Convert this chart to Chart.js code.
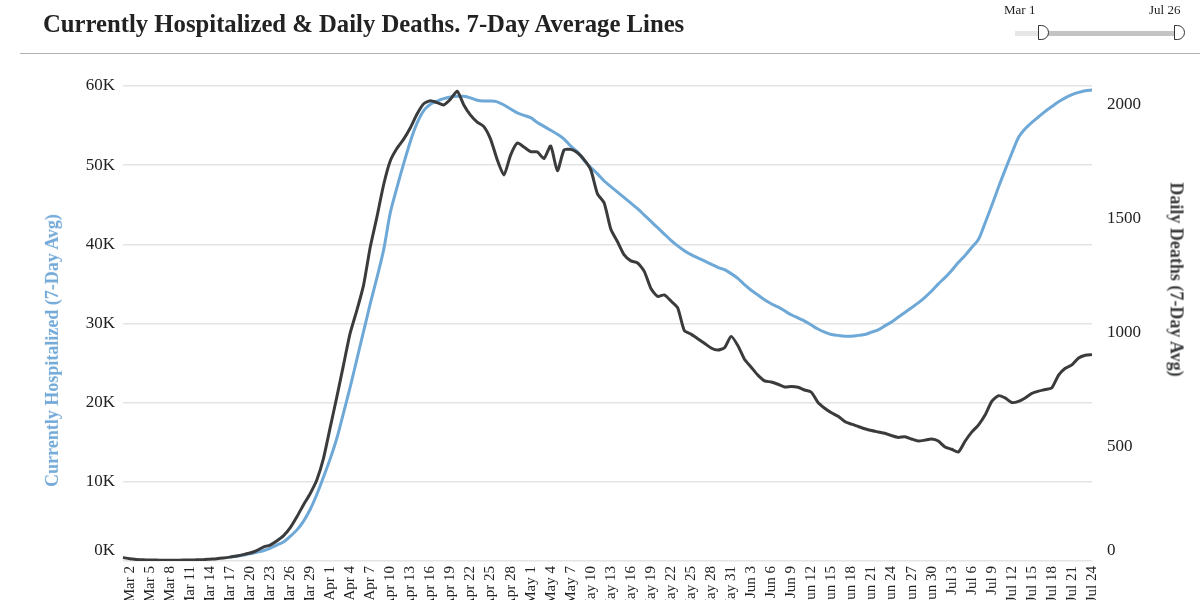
<!DOCTYPE html>
<html>
<head>
<meta charset="utf-8">
<script src="https://cdn.jsdelivr.net/npm/chart.js@4.4.1/dist/chart.umd.min.js"></script>
<style>
  html, body { margin: 0; padding: 0; width: 1200px; height: 600px; overflow: hidden; background: #fff; }
  body { position: relative; font-family: "Liberation Serif", "Times New Roman", serif; }
  #title { position: absolute; left: 43px; top: 9px; font-size: 26px; font-weight: bold; color: #222; white-space: nowrap; transform: scaleX(0.95); transform-origin: left center; }
  #rule { position: absolute; left: 20px; right: 0; top: 53px; height: 0; border-top: 1.5px solid #b0b0b0; }
  .sl-label { position: absolute; top: 2px; font-size: 13px; color: #222; }
  .track { position: absolute; top: 31px; height: 5px; }
  .handle { position: absolute; top: 25px; width: 11px; height: 15px; background: #fff; border: 1px solid #333; border-radius: 0 8px 8px 0; box-sizing: border-box; }
  .ytitle { position: absolute; font-size: 18px; font-weight: bold; white-space: nowrap; transform-origin: center center; }
  #chartbox { position: absolute; left: 0; top: 0; width: 1200px; height: 640px; }
</style>
</head>
<body>
<div id="chartbox"><canvas id="chart" width="1200" height="640"></canvas></div>
<div id="title">Currently Hospitalized &amp; Daily Deaths. 7-Day Average Lines</div>
<div id="rule"></div>
<div class="sl-label" style="left:1004px">Mar 1</div>
<div class="sl-label" style="left:1149px">Jul 26</div>
<div class="track" style="left:1015px; width:25px; background:#e6e6e6"></div>
<div class="track" style="left:1045px; width:130px; background:#c4c4c4"></div>
<div class="handle" style="left:1038px"></div>
<div class="handle" style="left:1174px"></div>
<div class="ytitle" id="ltitle" style="color:#72a9d8">Currently Hospitalized (7-Day Avg)</div>
<div class="ytitle" id="rtitle" style="color:#3a3b3d">Daily Deaths (7-Day Avg)</div>
<script>
// days from Mar 1 to Jul 24
const months = ['Mar', 'Apr', 'May', 'Jun', 'Jul'];
const monthDays = [31, 30, 31, 30, 24];

const dates = [];
months.forEach((m, i) => {
    for (let d = 1; d <= monthDays[i]; d++) dates.push(m + ' ' + d);
});

// currently hospitalized, 7-day avg (null before Mar 17)
const hospitalized = [
    null, null, null, null, null, null, null, null, null, null,
    null, null, null, null, null, null, 500, 600, 750, 900,
    1100, 1300, 1600, 2000, 2400, 3100, 3900, 5000, 6500, 8400,
    10600, 12900, 15500, 18700, 22000, 25500, 29000, 32500, 35800, 39300,
    44000, 47200, 50200, 53000, 55300, 56900, 57700, 58100, 58400, 58600,
    58700, 58700, 58500, 58200, 58100, 58100, 58000, 57600, 57100, 56600,
    56300, 56000, 55400, 54900, 54400, 53900, 53300, 52400, 51700, 50600,
    49700, 48900, 48000, 47300, 46600, 45900, 45200, 44500, 43700, 42900,
    42100, 41300, 40500, 39800, 39200, 38700, 38300, 37900, 37500, 37100,
    36800, 36300, 35700, 34900, 34200, 33600, 33000, 32500, 32100, 31600,
    31100, 30700, 30300, 29800, 29300, 28900, 28600, 28500, 28400, 28400,
    28500, 28600, 28900, 29200, 29700, 30200, 30800, 31400, 32000, 32600,
    33300, 34100, 35000, 35800, 36700, 37700, 38600, 39600, 40600, 42700,
    44900, 47200, 49400, 51500, 53500, 54600, 55400, 56100, 56800, 57400,
    58000, 58500, 58900, 59200, 59400, 59500
];

// daily deaths, 7-day avg
const deaths = [
    15, 10, 7, 5, 4, 4, 3, 3, 3, 4,
    4, 5, 6, 8, 10, 13, 17, 22, 28, 35,
    46, 61, 70, 88, 110, 145, 193, 246, 295, 355,
    450, 585, 720, 860, 1000, 1100, 1210, 1377, 1509, 1650,
    1755, 1810, 1850, 1900, 1960, 2005, 2018, 2010, 2000, 2025,
    2060, 2000, 1955, 1925, 1905, 1850, 1760, 1693, 1780, 1833,
    1815, 1795, 1794, 1765, 1820, 1711, 1803, 1805, 1790, 1760,
    1715, 1610, 1570, 1455, 1400, 1342, 1316, 1307, 1270, 1195,
    1160, 1167, 1140, 1110, 1010, 995, 975, 955, 934, 925,
    935, 985, 945, 885, 850, 815, 790, 785, 775, 763,
    765, 762, 750, 740, 695, 670, 650, 635, 612, 600,
    590, 580, 572, 566, 560, 550, 542, 545, 535, 526,
    530, 535, 526, 500, 490, 478, 525, 565, 596, 640,
    700, 725, 715, 695, 700, 715, 735, 745, 752, 760,
    815, 845, 860, 890, 902, 905
];

const leftTicks = [0, 10000, 20000, 30000, 40000, 50000, 60000];
const rightTicks = [0, 500, 1000, 1500, 2000];

const blue = '#6ea8d7';
const dark = '#3a3b3d';
const serif = '"Liberation Serif", "Times New Roman", serif';

function placeTitle(el, cx, cy, deg) {
    el.style.left = '0px';
    el.style.top = '0px';
    const w = el.offsetWidth, h = el.offsetHeight;
    el.style.left = (cx - w / 2) + 'px';
    el.style.top = (cy - h / 2) + 'px';
    el.style.transform = 'rotate(' + deg + 'deg)';
}
placeTitle(document.getElementById('ltitle'), 52, 350, -90);
placeTitle(document.getElementById('rtitle'), 1176, 279, 90);

// the zero labels sit a little above their line, a blank second line lifts them
const zeroLift = txt => [txt, ''];

new Chart(document.getElementById('chart').getContext('2d'), {
    type: 'line',
    data: {
        labels: dates,
        datasets: [
            {
                label: 'Daily Deaths (7-Day Avg)',
                data: deaths,
                yAxisID: 'yR',
                borderColor: dark,
                borderWidth: 3,
                pointRadius: 0,
                tension: 0.2,
                borderJoinStyle: 'round',
                order: 1
            },
            {
                label: 'Currently Hospitalized (7-Day Avg)',
                data: hospitalized,
                yAxisID: 'yL',
                borderColor: blue,
                borderWidth: 3,
                pointRadius: 0,
                tension: 0.3,
                borderJoinStyle: 'round',
                order: 2
            }
        ]
    },
    options: {
        responsive: false,
        animation: false,
        devicePixelRatio: 1,
        layout: { padding: { top: 86, left: 0, right: 0, bottom: 0 } },
        plugins: { legend: { display: false }, tooltip: { enabled: false } },
        scales: {
            x: {
                offset: false,
                grid: { display: false, drawTicks: false },
                border: { display: false },
                ticks: {
                    autoSkip: false,
                    minRotation: 90,
                    maxRotation: 90,
                    padding: 5,
                    color: '#222',
                    font: { family: serif, size: 15 },
                    callback: function (v, i) { return i % 3 === 1 ? dates[i] : null; }
                },
                afterFit: s => { s.height = 640 - 561; }
            },
            yL: {
                position: 'left',
                min: 0,
                max: 60000,
                afterBuildTicks: s => { s.ticks = leftTicks.map(v => ({ value: v })); },
                grid: { color: '#e4e4e4', lineWidth: 1.5, drawTicks: false },
                border: { display: false },
                ticks: {
                    padding: 8,
                    color: '#222',
                    font: { family: serif, size: 17 },
                    callback: v => v === 0 ? zeroLift('0K') : (v / 1000) + 'K'
                },
                afterFit: s => { s.width = 123; }
            },
            yR: {
                position: 'right',
                min: 0,
                max: 2083,
                afterBuildTicks: s => { s.ticks = rightTicks.map(v => ({ value: v })); },
                grid: { display: false, drawTicks: false },
                border: { display: false },
                ticks: {
                    padding: 15,
                    color: '#222',
                    font: { family: serif, size: 17 },
                    callback: v => v === 0 ? zeroLift('0') : String(v)
                },
                afterFit: s => { s.width = 1200 - 1092; }
            }
        }
    }
});
</script>
</body>
</html>
